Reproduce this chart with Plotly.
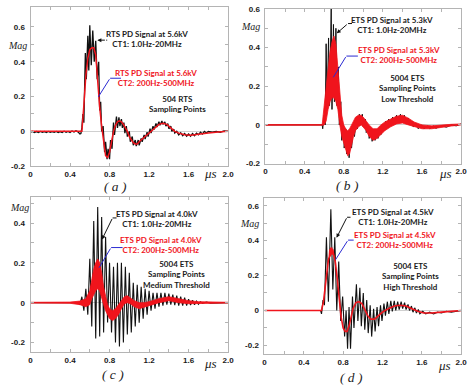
import plotly.graph_objects as go

W, H = 474, 390

# ---------------- data (time in us, magnitude) ----------------
x_tick_vals = [0.0, 0.2, 0.4, 0.6, 0.8, 1.0, 1.2, 1.4, 1.6, 1.8, 2.0]
x_tick_text = ["0", "", "0.4", "", "0.8", "", "1.2", "", "1.6", "", "2.0"]
y_tick_vals = [-0.2, -0.1, 0.0, 0.1, 0.2, 0.3, 0.4, 0.5, 0.6]
y_tick_text = ["-0.2", "", "0", "", "0.2", "", "0.4", "", "0.6"]

# (a) RTS, CT1 (black)
a_ct1 = [(0.0, -0.004), (0.02, 0.0), (0.04, -0.006), (0.06, -0.001), (0.08, -0.006), (0.10, 0.0),
         (0.12, -0.005), (0.14, -0.001), (0.16, -0.007), (0.18, 0.0), (0.20, -0.005), (0.22, -0.002),
         (0.24, -0.006), (0.26, 0.0), (0.28, -0.006), (0.30, -0.001), (0.32, -0.006), (0.34, 0.001),
         (0.36, -0.005), (0.38, 0.0), (0.40, -0.006), (0.42, 0.002), (0.44, -0.004), (0.46, 0.004),
         (0.48, -0.003), (0.50, -0.015), (0.51, -0.012), (0.52, 0.02), (0.53, 0.10), (0.54, 0.05),
         (0.555, 0.45), (0.565, 0.30), (0.58, 0.55), (0.59, 0.35), (0.60, 0.61), (0.615, 0.38),
         (0.63, 0.58), (0.645, 0.40), (0.66, 0.52), (0.675, 0.30), (0.69, 0.40), (0.70, 0.12),
         (0.71, 0.17), (0.72, 0.0), (0.735, 0.03), (0.75, -0.12), (0.76, -0.06), (0.775, -0.16),
         (0.785, -0.10), (0.80, -0.16), (0.81, -0.05), (0.825, -0.10), (0.84, 0.05), (0.85, -0.02),
         (0.87, 0.085), (0.88, 0.02), (0.895, 0.08), (0.905, 0.03), (0.92, 0.07), (0.93, 0.02),
         (0.945, 0.05), (0.955, -0.01), (0.97, 0.03), (0.98, -0.03), (1.00, 0.0), (1.01, -0.06),
         (1.03, -0.03), (1.04, -0.08), (1.06, -0.05), (1.07, -0.085), (1.09, -0.05), (1.10, -0.08),
         (1.12, -0.04), (1.13, -0.06), (1.15, -0.02), (1.16, -0.045), (1.18, -0.005), (1.19, -0.03),
         (1.21, 0.015), (1.22, -0.01), (1.24, 0.03), (1.25, 0.01), (1.27, 0.045), (1.28, 0.025),
         (1.30, 0.055), (1.31, 0.035), (1.33, 0.06), (1.34, 0.04), (1.36, 0.055), (1.37, 0.03),
         (1.39, 0.045), (1.40, 0.015), (1.42, 0.03), (1.43, 0.0), (1.45, 0.012), (1.46, -0.01),
         (1.48, 0.0), (1.50, -0.02), (1.52, -0.008), (1.54, -0.025), (1.56, -0.012), (1.58, -0.028),
         (1.60, -0.015), (1.62, -0.028), (1.64, -0.012), (1.66, -0.025), (1.68, -0.01), (1.70, -0.02),
         (1.72, -0.005), (1.74, -0.015), (1.76, 0.0), (1.78, -0.01), (1.80, 0.0), (1.84, -0.005),
         (1.88, 0.0), (1.92, -0.005), (1.96, 0.003), (2.00, 0.0)]

# (a) RTS, CT2 (red)
a_ct2 = [(0.0, 0.0), (0.50, 0.0), (0.52, 0.0), (0.54, 0.15), (0.56, 0.32), (0.58, 0.42), (0.60, 0.47),
         (0.62, 0.48), (0.64, 0.48), (0.66, 0.44), (0.68, 0.28), (0.70, 0.14), (0.72, 0.03),
         (0.74, -0.07), (0.76, -0.14), (0.78, -0.15), (0.80, -0.12), (0.82, -0.06), (0.84, 0.0),
         (0.86, 0.035), (0.88, 0.055), (0.90, 0.06), (0.92, 0.055), (0.94, 0.04), (0.96, 0.02),
         (0.98, 0.0), (1.00, -0.03), (1.02, -0.05), (1.04, -0.065), (1.06, -0.072), (1.08, -0.072),
         (1.10, -0.06), (1.14, -0.04), (1.18, -0.02), (1.22, 0.0), (1.26, 0.025), (1.30, 0.04),
         (1.34, 0.047), (1.38, 0.04), (1.42, 0.02), (1.46, 0.0), (1.50, -0.01), (1.56, -0.02),
         (1.62, -0.022), (1.70, -0.018), (1.80, -0.01), (1.90, -0.003), (2.00, 0.0)]

# (b) ETS low threshold, CT1 (black)
b_ct1 = [(0.0, 0.0), (0.58, 0.0), (0.585, -0.02), (0.60, 0.05), (0.61, 0.0), (0.62, 0.42), (0.63, 0.10),
         (0.645, 0.45), (0.655, 0.10), (0.672, 0.60), (0.68, 0.08), (0.695, 0.52), (0.705, 0.12),
         (0.72, 0.50), (0.73, 0.10), (0.745, 0.30), (0.755, 0.0), (0.77, 0.12), (0.78, -0.08),
         (0.795, 0.0), (0.805, -0.12), (0.82, -0.02), (0.83, -0.15), (0.845, -0.04), (0.855, -0.17),
         (0.87, -0.03), (0.88, -0.12), (0.90, 0.0), (0.91, -0.06), (0.93, 0.04), (0.94, -0.02),
         (0.96, 0.055), (0.97, 0.0), (0.99, 0.055), (1.00, -0.01), (1.02, 0.03), (1.03, -0.04),
         (1.05, 0.0), (1.06, -0.07), (1.08, -0.03), (1.09, -0.085), (1.11, -0.04), (1.12, -0.08),
         (1.14, -0.03), (1.15, -0.07), (1.17, -0.01), (1.18, -0.05), (1.20, 0.0), (1.21, -0.03),
         (1.23, 0.02), (1.24, -0.01), (1.26, 0.03), (1.27, 0.0), (1.30, 0.04), (1.31, 0.01),
         (1.34, 0.05), (1.35, 0.015), (1.38, 0.055), (1.39, 0.02), (1.42, 0.05), (1.43, 0.01),
         (1.46, 0.035), (1.47, 0.0), (1.50, 0.02), (1.51, -0.01), (1.55, 0.005), (1.56, -0.02),
         (1.60, 0.0), (1.62, -0.02), (1.66, -0.005), (1.68, -0.02), (1.72, -0.005), (1.74, -0.018),
         (1.80, -0.005), (1.85, -0.012), (1.90, 0.0), (1.95, -0.005), (2.00, 0.005)]

# (b) ETS low threshold, CT2 (red) : (t, upper envelope, lower envelope)
b_ct2 = [(0.0, 0.002, -0.002), (0.58, 0.002, -0.002), (0.60, 0.10, 0.0), (0.62, 0.20, 0.02),
         (0.64, 0.30, 0.08), (0.66, 0.38, 0.12), (0.68, 0.43, 0.14), (0.70, 0.46, 0.14),
         (0.72, 0.42, 0.12), (0.74, 0.30, 0.08), (0.76, 0.15, 0.0), (0.78, 0.05, -0.06),
         (0.80, 0.0, -0.10), (0.82, -0.02, -0.13), (0.84, -0.03, -0.16), (0.86, -0.02, -0.15),
         (0.88, 0.0, -0.10), (0.90, 0.02, -0.06), (0.92, 0.04, -0.03), (0.95, 0.05, -0.01),
         (0.98, 0.05, 0.0), (1.00, 0.04, -0.01), (1.03, 0.02, -0.03), (1.06, 0.0, -0.06),
         (1.10, -0.02, -0.08), (1.14, -0.02, -0.07), (1.18, 0.0, -0.05), (1.22, 0.015, -0.03),
         (1.28, 0.03, -0.01), (1.34, 0.045, 0.005), (1.40, 0.05, 0.01), (1.46, 0.035, 0.0),
         (1.52, 0.015, -0.01), (1.60, 0.0, -0.02), (1.70, -0.005, -0.02), (1.80, 0.0, -0.012),
         (1.90, 0.003, -0.006), (2.00, 0.005, 0.0)]

# (c) ETS medium threshold, CT1 (black)
c_ct1 = [(0.0, 0.0), (0.30, 0.0), (0.48, 0.0), (0.50, -0.01), (0.52, 0.03), (0.54, -0.04), (0.56, 0.07),
         (0.58, -0.06), (0.60, 0.22), (0.62, -0.12), (0.64, 0.41), (0.66, -0.18), (0.68, 0.48),
         (0.70, -0.17), (0.72, 0.43), (0.74, -0.15), (0.76, 0.33), (0.78, -0.10), (0.80, 0.20),
         (0.82, -0.15), (0.84, 0.18), (0.86, -0.20), (0.88, 0.20), (0.90, -0.22), (0.92, 0.20),
         (0.94, -0.20), (0.96, 0.18), (0.98, -0.16), (1.00, 0.15), (1.02, -0.15), (1.04, 0.10),
         (1.06, -0.12), (1.08, 0.09), (1.10, -0.10), (1.12, 0.08), (1.14, -0.08), (1.16, 0.07),
         (1.18, -0.06), (1.20, 0.06), (1.22, -0.04), (1.24, 0.05), (1.26, -0.03), (1.28, 0.05),
         (1.30, -0.02), (1.32, 0.05), (1.34, -0.015), (1.36, 0.05), (1.38, -0.01), (1.40, 0.045),
         (1.42, -0.01), (1.44, 0.04), (1.46, -0.012), (1.48, 0.035), (1.50, -0.015), (1.52, 0.03),
         (1.54, -0.015), (1.56, 0.025), (1.58, -0.015), (1.60, 0.018), (1.62, -0.012), (1.64, 0.012),
         (1.66, -0.01), (1.68, 0.008), (1.70, -0.008), (1.72, 0.005), (1.74, -0.004), (1.78, 0.003),
         (1.82, -0.002), (1.90, 0.0), (2.00, 0.0)]

# (c) ETS medium threshold, CT2 (red) : (t, upper, lower)
c_ct2 = [(0.0, 0.002, -0.002), (0.40, 0.003, -0.003), (0.50, 0.008, -0.01), (0.56, 0.02, -0.02),
         (0.60, 0.06, -0.01), (0.62, 0.12, 0.02), (0.64, 0.17, 0.04), (0.66, 0.20, 0.06),
         (0.68, 0.22, 0.07), (0.70, 0.20, 0.06), (0.72, 0.15, 0.03), (0.74, 0.08, -0.01),
         (0.76, 0.03, -0.04), (0.78, -0.01, -0.06), (0.80, -0.03, -0.08), (0.83, -0.04, -0.09),
         (0.86, -0.03, -0.08), (0.89, -0.01, -0.06), (0.92, 0.01, -0.03), (0.95, 0.03, -0.005),
         (0.98, 0.035, 0.0), (1.01, 0.025, -0.005), (1.05, 0.01, -0.02), (1.10, 0.0, -0.03),
         (1.15, 0.0, -0.025), (1.20, 0.005, -0.015), (1.30, 0.02, 0.0), (1.40, 0.03, 0.01),
         (1.50, 0.02, 0.0), (1.60, 0.01, -0.005), (1.70, 0.005, -0.005), (1.80, 0.003, -0.004),
         (2.00, 0.002, -0.002)]

# (d) ETS high threshold, CT1 (black)
d_ct1 = [(0.0, 0.0), (0.57, 0.0), (0.58, -0.02), (0.595, 0.06), (0.61, 0.03), (0.63, 0.42), (0.65, 0.05),
         (0.675, 0.58), (0.695, 0.12), (0.715, 0.42), (0.735, 0.0), (0.755, 0.28), (0.775, -0.06),
         (0.795, 0.08), (0.815, -0.15), (0.83, 0.0), (0.845, -0.22), (0.86, 0.02), (0.875, -0.22),
         (0.895, 0.08), (0.91, -0.10), (0.935, 0.15), (0.95, -0.06), (0.97, 0.13), (0.985, -0.09),
         (1.005, 0.10), (1.02, -0.11), (1.04, 0.06), (1.055, -0.13), (1.075, 0.03), (1.09, -0.15),
         (1.11, 0.01), (1.125, -0.12), (1.145, 0.02), (1.16, -0.09), (1.18, 0.03), (1.195, -0.06),
         (1.215, 0.04), (1.23, -0.03), (1.25, 0.05), (1.265, -0.02), (1.285, 0.055), (1.30, -0.005),
         (1.32, 0.055), (1.335, 0.0), (1.355, 0.05), (1.37, 0.005), (1.39, 0.05), (1.405, 0.01),
         (1.425, 0.045), (1.44, 0.005), (1.46, 0.035), (1.475, 0.0), (1.495, 0.025), (1.51, -0.01),
         (1.53, 0.015), (1.545, -0.015), (1.565, 0.005), (1.58, -0.02), (1.61, -0.005), (1.64, -0.02),
         (1.68, -0.01), (1.72, -0.02), (1.76, -0.01), (1.80, -0.015), (1.85, -0.005), (1.90, -0.01),
         (2.00, 0.0)]

# (d) ETS high threshold, CT2 (red)
d_ct2 = [(0.0, 0.0), (0.58, 0.0), (0.60, 0.05), (0.62, 0.15), (0.64, 0.25), (0.65, 0.29), (0.66, 0.31),
         (0.665, 0.35), (0.67, 0.31), (0.675, 0.36), (0.68, 0.32), (0.685, 0.36), (0.69, 0.32),
         (0.695, 0.35), (0.70, 0.33), (0.72, 0.28), (0.74, 0.18), (0.76, 0.05), (0.78, -0.04),
         (0.80, -0.10), (0.82, -0.12), (0.84, -0.12), (0.86, -0.09), (0.88, -0.04), (0.90, 0.01),
         (0.93, 0.045), (0.96, 0.05), (0.99, 0.04), (1.02, 0.0), (1.05, -0.03), (1.08, -0.05),
         (1.12, -0.05), (1.16, -0.03), (1.20, -0.01), (1.26, 0.01), (1.32, 0.025), (1.38, 0.03),
         (1.44, 0.025), (1.50, 0.01), (1.56, -0.005), (1.62, -0.015), (1.70, -0.015), (1.80, -0.01),
         (1.90, -0.003), (2.00, 0.0)]

ct1_labels = ["RTS PD Signal at 5.6kV<br>CT1: 1.0Hz-20MHz",
              "ETS PD Signal at 5.3kV<br>CT1: 1.0Hz-20MHz",
              "ETS PD Signal at 4.0kV<br>CT1: 1.0Hz-20MHz",
              "ETS PD Signal at 4.5kV<br>CT1: 1.0Hz-20MHz"]
ct2_labels = ["RTS PD Signal at 5.6kV<br>CT2: 200Hz-500MHz",
              "ETS PD Signal at 5.3kV<br>CT2: 200Hz-500MHz",
              "ETS PD Signal at 4.0kV<br>CT2: 200Hz-500MHz",
              "ETS PD Signal at 4.5kV<br>CT2: 200Hz-500MHz"]
sampling_labels = ["504 RTS<br>Sampling Points",
                   "5004 ETS<br>Sampling Points<br>Low Threshold",
                   "5004 ETS<br>Sampling Points<br>Medium Threshold",
                   "5004 ETS<br>Sampling Points<br>High Threshold"]
panel_letters = ["a", "b", "c", "d"]

# ---------------- style / layout ----------------
BLACK = "#111111"
RED = "#f0141c"
BLUE = "#2a2ad2"
AXC = "#b4b4b4"
TXT_FONT = "Lato"
SERIF = "Liberation Serif"


def px(x):
    return x / W


def py(y):
    return 1 - y / H


# pixel boxes of plot areas: (left, right, top, bottom) and y ranges
boxes = [(29, 230, 3, 166), (268, 467, 5, 163.3), (29, 230, 197.7, 356.7), (267, 467, 198.5, 358.3)]
y_ranges = [[-0.2, 0.715], [-0.2, 0.6005], [-0.25, 0.53], [-0.25, 0.645]]

fig = go.Figure()


def line_trace(samples, color, width, ax_i):
    t = [s[0] for s in samples]
    v = [s[1] for s in samples]
    sfx = "" if ax_i == 0 else str(ax_i + 1)
    return go.Scatter(x=t, y=v, mode="lines", line=dict(color=color, width=width),
                      xaxis="x" + sfx, yaxis="y" + sfx, showlegend=False, hoverinfo="skip")


def band_trace(samples, color, ax_i):
    t = [s[0] for s in samples]
    hi = [s[1] for s in samples]
    lo = [s[2] for s in samples]
    sfx = "" if ax_i == 0 else str(ax_i + 1)
    return go.Scatter(x=t + t[::-1], y=hi + lo[::-1], mode="lines", fill="toself",
                      fillcolor=color, line=dict(color=color, width=0.8),
                      xaxis="x" + sfx, yaxis="y" + sfx, showlegend=False, hoverinfo="skip")


fig.add_trace(line_trace(a_ct1, BLACK, 1.3, 0))
fig.add_trace(line_trace(a_ct2, RED, 1.5, 0))
fig.add_trace(line_trace(b_ct1, BLACK, 1.0, 1))
fig.add_trace(band_trace(b_ct2, RED, 1))
fig.add_trace(line_trace(c_ct1, BLACK, 1.1, 2))
fig.add_trace(band_trace(c_ct2, RED, 2))
fig.add_trace(line_trace(d_ct1, BLACK, 1.1, 3))
fig.add_trace(line_trace(d_ct2, RED, 1.6, 3))

layout = dict(width=W, height=H, margin=dict(l=0, r=0, t=0, b=0),
              paper_bgcolor="white", plot_bgcolor="white", showlegend=False)

tick_font = dict(family="Liberation Sans", size=8, color="#1a1a1a", weight="bold")
for i, (l, r, t, b) in enumerate(boxes):
    sfx = "" if i == 0 else str(i + 1)
    layout["xaxis" + sfx] = dict(
        domain=[px(l), px(r)], range=[0, 2.0], anchor="y" + sfx,
        tickmode="array", tickvals=x_tick_vals, ticktext=x_tick_text,
        ticks="inside", ticklen=3, tickcolor=AXC, tickwidth=1,
        showline=True, linecolor=AXC, linewidth=1, mirror="ticks",
        showgrid=False, zeroline=False, tickfont=tick_font, fixedrange=True,
        ticklabeloverflow="allow")
    layout["yaxis" + sfx] = dict(
        domain=[py(b), py(t)], range=y_ranges[i], anchor="x" + sfx,
        tickmode="array", tickvals=y_tick_vals, ticktext=y_tick_text,
        ticks="inside", ticklen=3, tickcolor=AXC, tickwidth=1,
        showline=True, linecolor=AXC, linewidth=1, mirror="ticks",
        showgrid=False, zeroline=True, zerolinecolor="#cfcfcf", zerolinewidth=1,
        tickfont=tick_font, ticklabelstandoff=3, fixedrange=True,
        ticklabeloverflow="allow")

annotations = []
shapes = []

# text block centres (pixels)
ct1_pos = [(147, 36), (397, 22), (158, 220), (398, 218)]
ct2_pos = [(157, 75.5), (404, 52), (162, 247), (400, 242)]
samp_pos = [(179, 102.5), (412, 86), (178, 277), (416, 279)]
mag_pos = [(15.5, 42), (253, 23), (17.5, 208), (252, 225)]
mus_pos = [(212, 173), (451, 173), (212, 368), (450, 370)]
lab_pos = [(115, 187), (351, 186), (113, 379), (355, 382)]


def text_ann(pos, text, font):
    return dict(x=px(pos[0]), y=py(pos[1]), xref="paper", yref="paper", text=text,
                showarrow=False, xanchor="center", yanchor="middle", align="center", font=font)


for i in range(4):
    annotations.append(text_ann(ct1_pos[i], "<b>" + ct1_labels[i] + "</b>",
                                dict(family=TXT_FONT, size=8, color="#1a1a1a")))
    annotations.append(text_ann(ct2_pos[i], "<b>" + ct2_labels[i] + "</b>",
                                dict(family=TXT_FONT, size=8, color=RED)))
    annotations.append(text_ann(samp_pos[i], "<b>" + sampling_labels[i] + "</b>",
                                dict(family=TXT_FONT, size=8, color="#1a1a1a")))
    annotations.append(text_ann(mag_pos[i], "<i>Mag</i>",
                                dict(family=SERIF, size=10, color="#222222")))
    annotations.append(text_ann(mus_pos[i], "<i>μs</i>",
                                dict(family=SERIF, size=13, color="#222222")))
    annotations.append(text_ann(lab_pos[i], "<i>( " + panel_letters[i] + " )</i>",
                                dict(family=SERIF, size=13.5, color="#222222")))

# leader lines: (start, corner, head) in pixels
black_leaders = [((107, 37), (106, 37), (97, 37)),
                 ((356, 20), (352, 20), (340.5, 30)),
                 ((116.5, 219), (112.5, 219), (101.7, 241)),
                 ((354.5, 218.3), (351, 218.3), (340.3, 239.3))]
blue_leaders = [((121, 76), (110, 76), (98, 95)),
                ((362, 53.3), (350.3, 53.3), (337, 75)),
                ((122.7, 249.3), (111, 249.3), (98.7, 270)),
                ((357.7, 241.7), (352, 241.7), (339.3, 261.7))]

for leaders, color, head in ((black_leaders, BLACK, 2), (blue_leaders, BLUE, 0)):
    for (s, c, h) in leaders:
        shapes.append(dict(type="line", xref="paper", yref="paper",
                           x0=px(s[0]), y0=py(s[1]), x1=px(c[0]), y1=py(c[1]),
                           line=dict(color=color, width=1)))
        annotations.append(dict(x=px(h[0]), y=py(h[1]), xref="paper", yref="paper", text="",
                                showarrow=True, arrowhead=head, arrowsize=0.8, arrowwidth=1,
                                arrowcolor=color, ax=c[0] - h[0], ay=c[1] - h[1], standoff=0))

layout["annotations"] = annotations
layout["shapes"] = shapes
fig.update_layout(**layout)

fig.write_html("out.html", config={"displayModeBar": False, "staticPlot": True},
               post_script="document.body.style.margin='0';document.body.style.padding='0';")
